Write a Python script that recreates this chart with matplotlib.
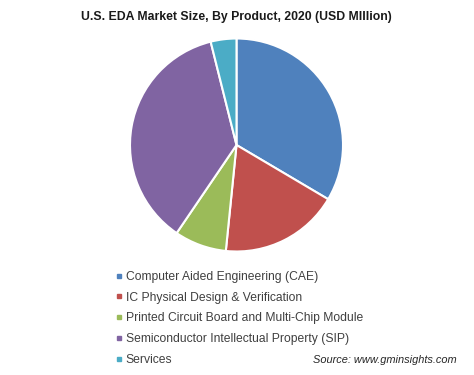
import matplotlib.pyplot as plt
from matplotlib.lines import Line2D

# share of market by product (%)
products = ['Computer Aided Engineering (CAE)',
            'IC Physical Design & Verification',
            'Printed Circuit Board and Multi-Chip Module',
            'Semiconductor Intellectual Property (SIP)',
            'Services']
shares = [33.5, 18.1, 7.9, 36.6, 3.9]
colors = ['#4F81BD', '#C0504D', '#9BBB59', '#8064A2', '#4BACC6']

plt.rcParams['font.family'] = ['Liberation Sans', 'DejaVu Sans']

W, H = 474, 375
fig = plt.figure(figsize=(W / 100, H / 100), dpi=100)

# pie axes: center (236.5, 145) px, radius 106.5 px
cx, cy, r = 236.5, 145, 106.5
ax = fig.add_axes([(cx - r) / W, (H - cy - r) / H, 2 * r / W, 2 * r / H])
wedges, _ = ax.pie(shares, colors=colors, startangle=90, counterclock=False,
                   radius=1, wedgeprops=dict(edgecolor='white', linewidth=1.5))
ax.set_xlim(-1, 1)
ax.set_ylim(-1, 1)
ax.set_aspect('equal')

fig.text(236.5 / W, 1 - 17 / H, 'U.S. EDA Market Size, By Product, 2020 (USD MIllion)',
         ha='center', va='center', fontsize=8.8, fontweight='bold', color='#1a1a1a')

handles = [Line2D([], [], marker='s', linestyle='none', markersize=3.2,
                  markerfacecolor=c, markeredgecolor=c) for c in colors]
leg = fig.legend(handles, products, loc='upper left',
                 bbox_to_anchor=(115 / W, 1 - 271 / H), frameon=False,
                 fontsize=8.7, handlelength=0.6, handletextpad=0.3,
                 labelspacing=0.72, borderaxespad=0, borderpad=0)
for t in leg.get_texts():
    t.set_color('#404040')

fig.text(457 / W, 1 - 360 / H, 'Source: www.gminsights.com', ha='right',
         va='center', fontsize=7.9, style='italic', color='#262626')

fig.savefig('out.png', dpi=100)
